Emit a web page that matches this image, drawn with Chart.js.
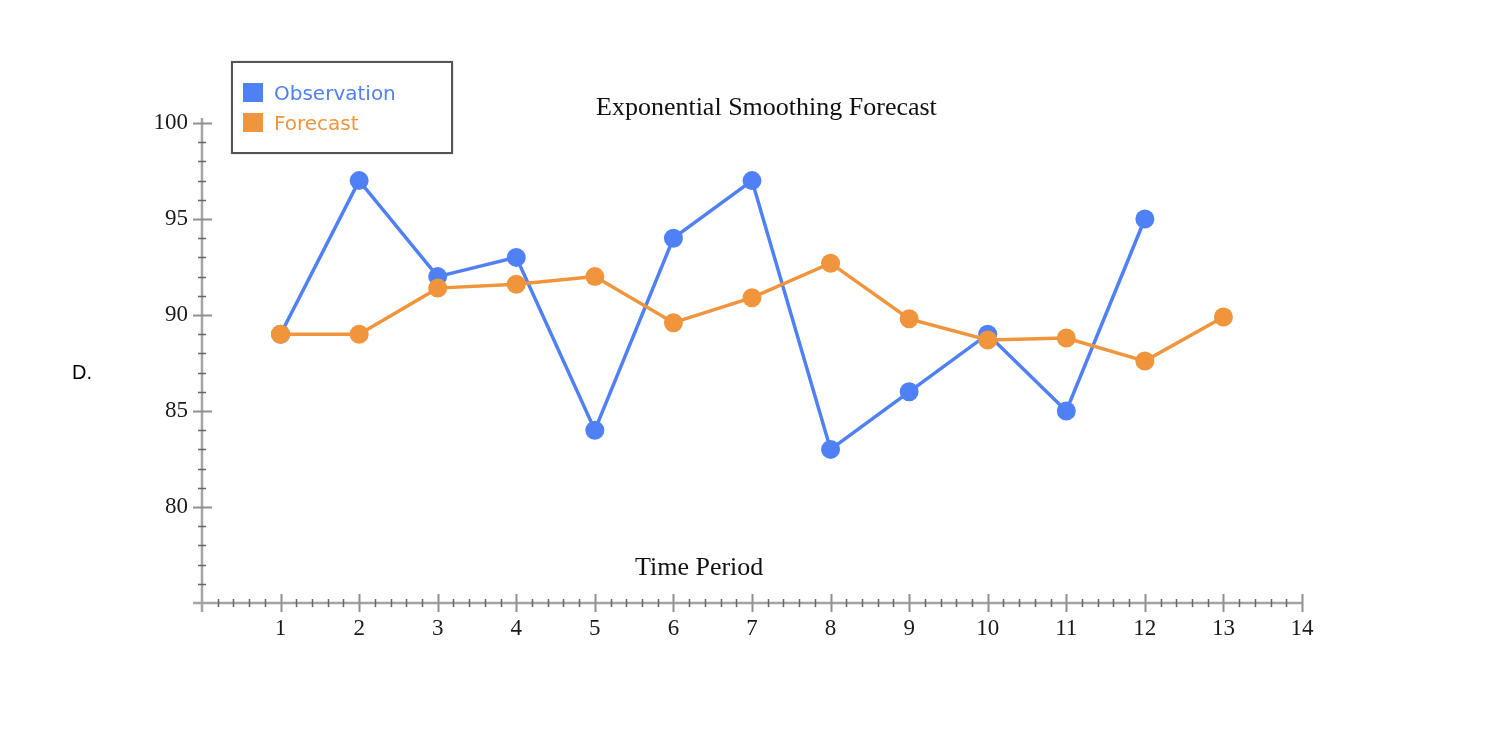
<!DOCTYPE html>
<html>
<head>
<meta charset="utf-8">
<script src="https://cdn.jsdelivr.net/npm/chart.js@4.4.0/dist/chart.umd.min.js"></script>
<style>
    body { margin: 0; background: #fff; }
    #wrap { position: relative; width: 1512px; height: 744px; }
    .txt { position: absolute; white-space: nowrap; line-height: 1; }
    .serif { font-family: 'Liberation Serif', 'Times New Roman', serif; color: #111; }
    #legend {
        position: absolute; left: 231px; top: 61px; width: 218px; height: 89px;
        border: 2.5px solid #555; box-sizing: content-box; background: #fff;
        box-shadow: 0 0 1px #999;
    }
    .item { position: absolute; left: 10px; font-family: 'DejaVu Sans', sans-serif; font-size: 20px; line-height: 20px; }
    .item span.box { display: inline-block; width: 20px; height: 19px; vertical-align: top; margin-right: 11px; }
</style>
</head>
<body>
<div id="wrap">
    <canvas id="myChart"></canvas>
    <div class="txt" style="left:72px; top:362px; font-family:'Liberation Sans', Arial, sans-serif; font-size:20px;">D.</div>
    <div class="txt serif" id="title" style="left:596px; top:94px; font-size:26px;">Exponential Smoothing Forecast</div>
    <div class="txt serif" id="xtitle" style="left:635px; top:554px; font-size:26px;">Time Period</div>
    <div id="legend"></div>
</div>
<script>
// Datos
const periods = [1, 2, 3, 4, 5, 6, 7, 8, 9, 10, 11, 12, 13];
const observation = [89, 97, 92, 93, 84, 94, 97, 83, 86, 89, 85, 95];
const forecast = [89, 89, 91.4, 91.6, 92, 89.6, 90.9, 92.7, 89.8, 88.7, 88.8, 87.6, 89.9];
const xTicks = [1, 2, 3, 4, 5, 6, 7, 8, 9, 10, 11, 12, 13, 14];
const yTicks = [80, 85, 90, 95, 100];

const blue = '#4f80f6';
const orange = '#f0953c';

// Ejes dibujados a mano (cruz con marcas mayores y menores)
const axesPlugin = {
    id: 'axes',
    beforeDatasetsDraw(chart) {
        const ctx = chart.ctx;
        const x = chart.scales.x, y = chart.scales.y;
        const x0 = x.getPixelForValue(0), y0 = y.getPixelForValue(75);
        ctx.save();
        ctx.lineCap = 'butt';
        // lineas de eje
        ctx.strokeStyle = '#a4a4a4';
        ctx.lineWidth = 2.5;
        ctx.beginPath();
        ctx.moveTo(x0 - 9, y0); ctx.lineTo(x.getPixelForValue(14), y0);
        ctx.moveTo(x0, y.getPixelForValue(100) - 5); ctx.lineTo(x0, y0 + 9);
        ctx.stroke();
        // marcas mayores
        ctx.strokeStyle = '#909090';
        ctx.lineWidth = 2;
        ctx.beginPath();
        xTicks.forEach(v => {
            const px = Math.round(x.getPixelForValue(v)) + 0.5;
            ctx.moveTo(px, y0 - 9); ctx.lineTo(px, y0 + 9);
        });
        yTicks.forEach(v => {
            const py = Math.round(y.getPixelForValue(v)) + 0.5;
            ctx.moveTo(x0 - 9, py); ctx.lineTo(x0 + 10, py);
        });
        ctx.stroke();
        // marcas menores
        ctx.strokeStyle = '#666';
        ctx.lineWidth = 1.5;
        ctx.beginPath();
        for (let i = 1; i < 70; i++) {
            if (i % 5 === 0) continue;
            const px = Math.round(x.getPixelForValue(i / 5)) + 0.5;
            ctx.moveTo(px, y0 - 4); ctx.lineTo(px, y0 + 4);
        }
        for (let v = 76; v < 100; v++) {
            if (v % 5 === 0) continue;
            const py = Math.round(y.getPixelForValue(v)) + 0.5;
            ctx.moveTo(x0 - 4, py); ctx.lineTo(x0 + 4, py);
        }
        ctx.stroke();
        ctx.restore();
    }
};

const ctx = document.getElementById('myChart').getContext('2d');
const myChart = new Chart(ctx, {
    type: 'line',
    data: {
        datasets: [{
            label: 'Observation',
            data: observation.map((v, i) => ({ x: periods[i], y: v })),
            borderColor: blue,
            backgroundColor: blue,
            borderWidth: 3.5,
            pointRadius: 9.5,
            pointHoverRadius: 9.5,
            pointBorderWidth: 0,
            order: 1
        }, {
            label: 'Forecast',
            data: forecast.map((v, i) => ({ x: periods[i], y: v })),
            borderColor: orange,
            backgroundColor: orange,
            borderWidth: 3.5,
            pointRadius: 9.5,
            pointHoverRadius: 9.5,
            pointBorderWidth: 0,
            order: 0
        }]
    },
    options: {
        responsive: true,
        maintainAspectRatio: false,
        animation: false,
        clip: false,
        layout: { padding: { left: 142, right: 210, top: 123, bottom: 91 } },
        plugins: {
            legend: { display: false },
            title: { display: false },
            tooltip: { enabled: false }
        },
        scales: {
            x: {
                type: 'linear',
                min: 0,
                max: 14,
                grid: { display: false, drawTicks: false },
                border: { display: false },
                afterBuildTicks: s => { s.ticks = xTicks.map(v => ({ value: v })); },
                afterFit: s => { s.height = 50; },
                ticks: {
                    color: '#1a1a1a',
                    padding: 12,
                    maxRotation: 0,
                    autoSkip: false,
                    font: { family: "'Liberation Serif', serif", size: 23 }
                }
            },
            y: {
                min: 75,
                max: 100,
                grid: { display: false, drawTicks: false },
                border: { display: false },
                afterBuildTicks: s => { s.ticks = yTicks.map(v => ({ value: v })); },
                afterFit: s => { s.width = 60; },
                ticks: {
                    color: '#1a1a1a',
                    padding: 14,
                    font: { family: "'Liberation Serif', serif", size: 23 }
                }
            }
        }
    },
    plugins: [axesPlugin]
});

// Leyenda en HTML
const legend = document.getElementById('legend');
myChart.data.datasets.forEach((ds, i) => {
    const el = document.createElement('div');
    el.className = 'item';
    el.style.top = (20 + i * 30) + 'px';
    el.style.color = ds.borderColor;
    el.innerHTML = '<span class="box" style="background:' + ds.borderColor + '"></span>' + ds.label;
    legend.appendChild(el);
});
</script>
</body>
</html>
